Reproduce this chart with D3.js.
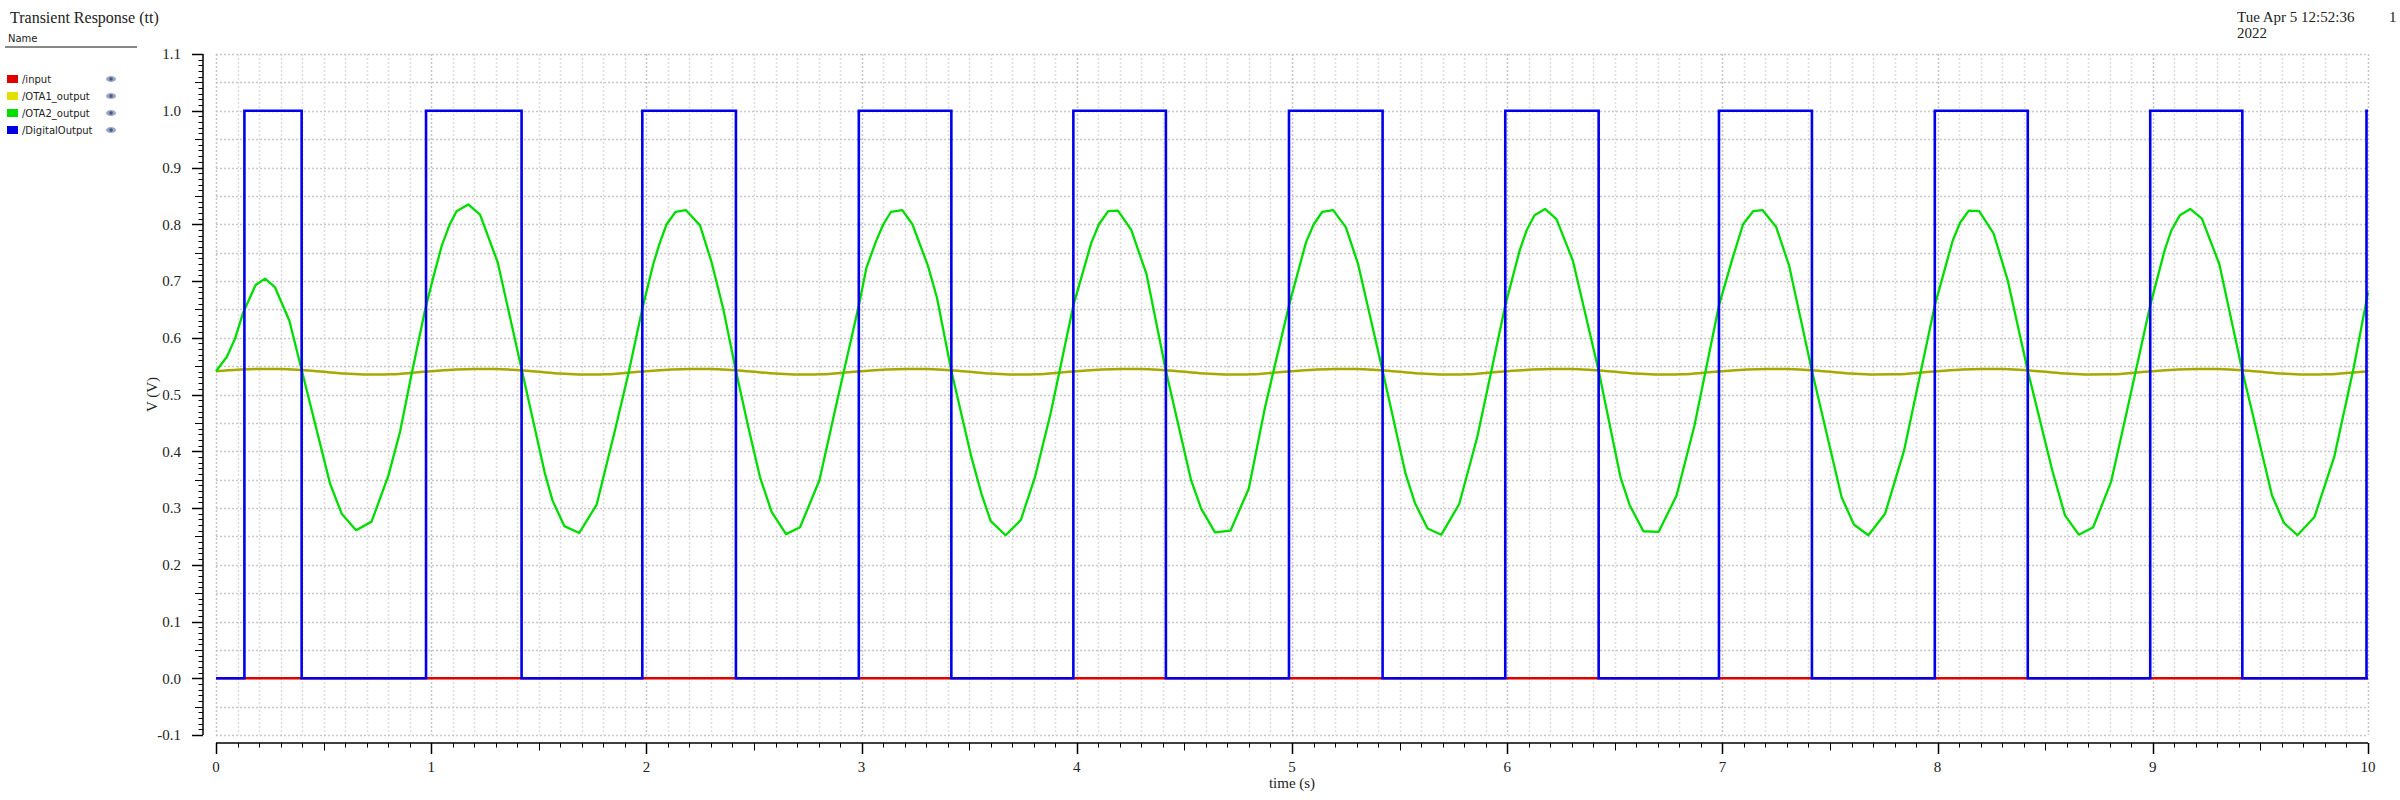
<!DOCTYPE html>
<html>
<head>
<meta charset="utf-8">
<script src="https://cdn.jsdelivr.net/npm/d3@7"></script>
<style>
  body { margin: 0; background: #fff; }
  svg { display: block; }
</style>
</head>
<body>
<script>
// series names and colours (legend order)
var seriesNames = ['/input', '/OTA1_output', '/OTA2_output', '/DigitalOutput'];
var legendColors = ['#e00000', '#e0e000', '#00dd00', '#0000e0'];
var lineColors = ['#e00000', '#a8a800', '#00dd00', '#0000ee'];

// /input stays at 0 V
var inputT = [0, 10];
var inputV = [0, 0];

// /OTA1_output, read every 0.1 s
var ota1T = d3.range(0, 101).map(function(i) { return i / 10; });
var ota1V = [
  0.541, 0.5435, 0.545, 0.545, 0.543, 0.540, 0.537, 0.5352, 0.5355, 0.538,
  0.541, 0.5435, 0.545, 0.545, 0.543, 0.540, 0.537, 0.5352, 0.5355, 0.538,
  0.541, 0.5435, 0.545, 0.545, 0.543, 0.540, 0.537, 0.5352, 0.5355, 0.538,
  0.541, 0.5435, 0.545, 0.545, 0.543, 0.540, 0.537, 0.5352, 0.5355, 0.538,
  0.541, 0.5435, 0.545, 0.545, 0.543, 0.540, 0.537, 0.5352, 0.5355, 0.538,
  0.541, 0.5435, 0.545, 0.545, 0.543, 0.540, 0.537, 0.5352, 0.5355, 0.538,
  0.541, 0.5435, 0.545, 0.545, 0.543, 0.540, 0.537, 0.5352, 0.5355, 0.538,
  0.541, 0.5435, 0.545, 0.545, 0.543, 0.540, 0.537, 0.5352, 0.5355, 0.538,
  0.541, 0.5435, 0.545, 0.545, 0.543, 0.540, 0.537, 0.5352, 0.5355, 0.538,
  0.541, 0.5435, 0.545, 0.545, 0.543, 0.540, 0.537, 0.5352, 0.5355, 0.538,
  0.541
];

// /OTA2_output simulator points
var ota2T = [
  0.000, 0.050, 0.088, 0.127, 0.158, 0.184, 0.228, 0.274, 0.341, 0.530, 0.584, 0.651, 0.723, 0.801,
  0.855, 0.909, 0.971, 1.010, 1.049, 1.084, 1.118, 1.172, 1.227, 1.309, 1.529, 1.564, 1.619, 1.688, 1.769,
  1.854, 1.916, 1.981, 2.032, 2.063, 2.094, 2.136, 2.183, 2.249, 2.303, 2.357, 2.416, 2.474, 2.528, 2.582, 2.649, 2.714,
  2.804, 2.880, 2.987, 3.023, 3.065, 3.101, 3.137, 3.189, 3.236, 3.308, 3.350, 3.417, 3.510, 3.557, 3.600, 3.669, 3.740,
  3.806, 3.878, 3.984, 4.068, 4.103, 4.146, 4.191, 4.253, 4.324, 4.414, 4.531, 4.578, 4.642, 4.714,
  4.799, 4.875, 4.986, 5.065, 5.101, 5.141, 5.191, 5.250, 5.307, 5.421, 5.528, 5.571, 5.630, 5.694,
  5.777, 5.861, 5.991, 6.058, 6.091, 6.127, 6.176, 6.229, 6.305, 6.425, 6.526, 6.569, 6.633, 6.704,
  6.787, 6.870, 6.984, 7.044, 7.096, 7.143, 7.186, 7.250, 7.310, 7.416, 7.554, 7.611, 7.678,
  7.756, 7.844, 7.987, 8.070, 8.105, 8.145, 8.193, 8.260, 8.326, 8.419, 8.533, 8.592, 8.656, 8.723,
  8.806, 8.877, 8.988, 9.055, 9.086, 9.126, 9.174, 9.228, 9.309, 9.416, 9.554, 9.609, 9.672,
  9.751, 9.843, 9.934, 10.000
];
var ota2V = [
  0.541, 0.566, 0.598, 0.645, 0.671, 0.693, 0.704, 0.689, 0.630, 0.343, 0.290, 0.261, 0.276, 0.357,
  0.434, 0.536, 0.648, 0.707, 0.762, 0.798, 0.823, 0.835, 0.817, 0.733, 0.360, 0.313, 0.268, 0.256, 0.306,
  0.437, 0.536, 0.651, 0.730, 0.768, 0.800, 0.822, 0.825, 0.798, 0.733, 0.651, 0.542, 0.442, 0.354, 0.293, 0.254, 0.266,
  0.349, 0.478, 0.657, 0.724, 0.768, 0.800, 0.822, 0.825, 0.800, 0.727, 0.671, 0.542, 0.390, 0.325, 0.277, 0.252, 0.279,
  0.355, 0.466, 0.657, 0.768, 0.800, 0.823, 0.824, 0.790, 0.712, 0.542, 0.349, 0.299, 0.257, 0.260,
  0.334, 0.478, 0.657, 0.768, 0.800, 0.822, 0.825, 0.795, 0.730, 0.542, 0.360, 0.309, 0.264, 0.253,
  0.307, 0.425, 0.657, 0.754, 0.790, 0.816, 0.827, 0.809, 0.736, 0.542, 0.355, 0.305, 0.259, 0.258,
  0.322, 0.445, 0.657, 0.736, 0.800, 0.823, 0.825, 0.795, 0.727, 0.542, 0.319, 0.271, 0.252,
  0.290, 0.401, 0.657, 0.771, 0.803, 0.824, 0.823, 0.784, 0.701, 0.542, 0.366, 0.287, 0.253, 0.266,
  0.346, 0.466, 0.657, 0.754, 0.789, 0.816, 0.827, 0.810, 0.730, 0.542, 0.322, 0.274, 0.252,
  0.284, 0.390, 0.548, 0.680
];

// /DigitalOutput edges (s)
var riseT = [0.132, 0.976, 1.981, 2.987, 3.984, 4.986, 5.991, 6.984, 7.987, 8.988, 9.993];
var fallT = [0.398, 1.420, 2.416, 3.417, 4.414, 5.421, 6.425, 7.416, 8.419, 9.416];

var xLabels = [0, 1, 2, 3, 4, 5, 6, 7, 8, 9, 10];
var yLabels = ['1.1', '1.0', '0.9', '0.8', '0.7', '0.6', '0.5', '0.4', '0.3', '0.2', '0.1', '0.0', '-0.1'];

var W = 2400, H = 800;
var plotLeft = 216, plotRight = 2368, plotTop = 54, plotBottom = 735;
var serif = 'Liberation Serif, Times New Roman, serif';
var sans = 'DejaVu Sans, Verdana, sans-serif';

var svg = d3.select('body').append('svg')
    .attr('width', W)
    .attr('height', H)
    .style('background', '#fff');

var x = d3.scaleLinear().domain([0, 10]).range([plotLeft, plotRight]);
var y = d3.scaleLinear().domain([-0.1, 1.1]).range([plotBottom, plotTop]);

// grid
var grid = svg.append('g');
grid.selectAll('.vgrid')
    .data(d3.range(0, 101))
    .enter().append('line')
    .attr('class', 'vgrid')
    .attr('x1', function(d) { return Math.round(x(d / 10)) + 0.5; })
    .attr('x2', function(d) { return Math.round(x(d / 10)) + 0.5; })
    .attr('y1', plotTop)
    .attr('y2', plotBottom)
    .style('stroke', function(d) { return d % 10 == 0 ? '#c4c4c4' : '#dedede'; })
    .style('stroke-width', 1.5)
    .style('stroke-dasharray', '2,2');

grid.selectAll('.hgrid')
    .data(d3.range(-2, 23))
    .enter().append('line')
    .attr('class', 'hgrid')
    .attr('y1', function(d) { return Math.round(y(d * 0.05)) + 0.5; })
    .attr('y2', function(d) { return Math.round(y(d * 0.05)) + 0.5; })
    .attr('x1', plotLeft)
    .attr('x2', plotRight)
    .style('stroke', '#c8c8c8')
    .style('stroke-width', 1.5)
    .style('stroke-dasharray', '2,2');

// y axis
var yAxisX = 203;
var yAxis = svg.append('g');
yAxis.append('line')
    .attr('x1', yAxisX).attr('x2', yAxisX)
    .attr('y1', y(1.1)).attr('y2', y(-0.1))
    .style('stroke', '#000').style('stroke-width', 1.5);
yAxis.selectAll('.ytick')
    .data(d3.range(-10, 111))
    .enter().append('line')
    .attr('class', 'ytick')
    .attr('x1', function(d) {
        if (d % 10 == 0) return yAxisX - 11;
        if (d % 5 == 0) return yAxisX - 8;
        return yAxisX - 4.5;
    })
    .attr('x2', yAxisX)
    .attr('y1', function(d) { return Math.round(y(d / 100)) + 0.5; })
    .attr('y2', function(d) { return Math.round(y(d / 100)) + 0.5; })
    .style('stroke', '#000')
    .style('stroke-width', function(d) { return d % 10 == 0 ? 1.5 : 1; });
yAxis.selectAll('.ylabel')
    .data(yLabels)
    .enter().append('text')
    .attr('class', 'ylabel')
    .attr('x', 181)
    .attr('y', function(d) { return y(+d); })
    .attr('dy', '0.35em')
    .attr('text-anchor', 'end')
    .style('font-family', serif)
    .style('font-size', '15px')
    .style('fill', '#222')
    .text(function(d) { return d; });

// x axis
var xAxisY = 743;
var xAxis = svg.append('g');
xAxis.append('line')
    .attr('x1', x(0)).attr('x2', x(10))
    .attr('y1', xAxisY).attr('y2', xAxisY)
    .style('stroke', '#000').style('stroke-width', 1.5);
xAxis.selectAll('.xtick')
    .data(d3.range(0, 101))
    .enter().append('line')
    .attr('class', 'xtick')
    .attr('x1', function(d) { return Math.round(x(d / 10)) + 0.5; })
    .attr('x2', function(d) { return Math.round(x(d / 10)) + 0.5; })
    .attr('y1', xAxisY)
    .attr('y2', function(d) {
        if (d % 10 == 0) return xAxisY + 11;
        if (d % 5 == 0) return xAxisY + 7.5;
        return xAxisY + 4.5;
    })
    .style('stroke', '#000')
    .style('stroke-width', function(d) { return d % 10 == 0 ? 1.5 : 1; });
xAxis.selectAll('.xlabel')
    .data(xLabels)
    .enter().append('text')
    .attr('class', 'xlabel')
    .attr('x', function(d) { return x(d); })
    .attr('y', 772)
    .attr('text-anchor', 'middle')
    .style('font-family', serif)
    .style('font-size', '15px')
    .style('fill', '#222')
    .text(function(d) { return d; });

svg.append('text')
    .attr('x', (plotLeft + plotRight) / 2)
    .attr('y', 788)
    .attr('text-anchor', 'middle')
    .style('font-family', serif)
    .style('font-size', '15px')
    .style('fill', '#222')
    .text('time (s)');

svg.append('text')
    .attr('transform', 'translate(157,' + ((plotTop + plotBottom) / 2) + ') rotate(-90)')
    .attr('text-anchor', 'middle')
    .style('font-family', serif)
    .style('font-size', '15px')
    .style('fill', '#222')
    .text('V (V)');

// traces
var line = d3.line()
    .x(function(d) { return x(d[0]); })
    .y(function(d) { return y(d[1]); });
var smooth = d3.line()
    .x(function(d) { return x(d[0]); })
    .y(function(d) { return y(d[1]); })
    .curve(d3.curveMonotoneX);

var inputPts = d3.zip(inputT, inputV);
var ota1Pts = d3.zip(ota1T, ota1V);
var ota2Pts = d3.zip(ota2T, ota2V);
var digitalPts = [[0, 0]];
riseT.forEach(function(r, i) {
    digitalPts.push([r, 0], [r, 1]);
    if (i < fallT.length) {
        digitalPts.push([fallT[i], 1], [fallT[i], 0]);
    }
});
digitalPts.push([10, 1]);

var traces = svg.append('g');
traces.append('path')
    .attr('d', line(inputPts))
    .style('fill', 'none').style('stroke', lineColors[0]).style('stroke-width', 2.5);
traces.append('path')
    .attr('d', smooth(ota1Pts))
    .style('fill', 'none').style('stroke', lineColors[1]).style('stroke-width', 2.5);
traces.append('path')
    .attr('d', line(ota2Pts))
    .style('fill', 'none').style('stroke', lineColors[2]).style('stroke-width', 2.3)
    .style('stroke-linejoin', 'round');
traces.append('path')
    .attr('d', line(digitalPts))
    .style('fill', 'none').style('stroke', lineColors[3]).style('stroke-width', 2.6);

// header texts
svg.append('text')
    .attr('x', 10).attr('y', 23)
    .style('font-family', serif).style('font-size', '16px').style('fill', '#222')
    .text('Transient Response (tt)');
svg.append('text')
    .attr('x', 2237).attr('y', 22)
    .style('font-family', serif).style('font-size', '15px').style('fill', '#222')
    .text('Tue Apr 5 12:52:36');
svg.append('text')
    .attr('x', 2237).attr('y', 38)
    .style('font-family', serif).style('font-size', '15px').style('fill', '#222')
    .text('2022');
svg.append('text')
    .attr('x', 2389).attr('y', 22)
    .style('font-family', serif).style('font-size', '15px').style('fill', '#222')
    .text('1');

// legend
svg.append('text')
    .attr('x', 8).attr('y', 42)
    .style('font-family', sans).style('font-size', '10px').style('fill', '#222')
    .text('Name');
svg.append('line')
    .attr('x1', 5).attr('x2', 137)
    .attr('y1', 47).attr('y2', 47)
    .style('stroke', '#888').style('stroke-width', 2);

var legend = svg.selectAll('.legend')
    .data(seriesNames)
    .enter().append('g')
    .attr('class', 'legend')
    .attr('transform', function(d, i) { return 'translate(0,' + (79 + i * 17) + ')'; });
legend.append('rect')
    .attr('x', 7).attr('y', -4)
    .attr('width', 11).attr('height', 8)
    .style('fill', function(d, i) { return legendColors[i]; });
legend.append('text')
    .attr('x', 22).attr('y', 4)
    .style('font-family', sans).style('font-size', '10px').style('fill', '#222')
    .text(function(d) { return d; });
legend.append('ellipse')
    .attr('cx', 111).attr('cy', 0)
    .attr('rx', 5).attr('ry', 3)
    .style('fill', '#9aa6c4');
legend.append('circle')
    .attr('cx', 111).attr('cy', 0)
    .attr('r', 1.8)
    .style('fill', '#4a5a88');
</script>
</body>
</html>
